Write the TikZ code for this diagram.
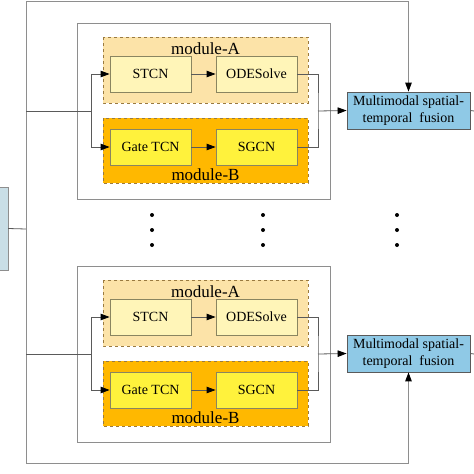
\documentclass[tikz,border=0pt]{standalone}
\usepackage{fontspec}
\setmainfont{Liberation Serif}
\newfontfamily\tnr{Liberation Serif}
\usetikzlibrary{arrows.meta}
\definecolor{frameg}{HTML}{8E8E8E}
\definecolor{lineg}{HTML}{5A5A5A}
\definecolor{modAfill}{HTML}{FCE3A8}
\definecolor{modBfill}{HTML}{FFB800}
\definecolor{lyellow}{HTML}{FFF5B8}
\definecolor{syellow}{HTML}{FFF23C}
\definecolor{fusefill}{HTML}{8FC9E6}
\definecolor{boxedge}{HTML}{8A8560}
\definecolor{dashedge}{HTML}{9A7A40}
\definecolor{leftfill}{HTML}{C9DEE6}
\begin{document}
\begin{tikzpicture}[x=1pt,y=-1pt,
  frame/.style={draw=frameg, line width=1pt},
  modbox/.style={draw=dashedge, dashed, line width=0.7pt},
  blk/.style={draw=boxedge, line width=0.8pt, minimum width=81pt, minimum height=36pt, inner sep=0pt, font=\tnr\fontsize{14}{16}\selectfont},
  conn/.style={draw=lineg, line width=0.8pt},
  arr/.style={conn, -{Triangle[length=9pt,width=6.5pt,color=black]}},
  farr/.style={frame, -{Triangle[length=9pt,width=6.5pt,color=black]}},
  modlabel/.style={font=\tnr\fontsize{17}{20}\selectfont, anchor=base, inner sep=0pt},
  fuse/.style={draw=lineg, line width=0.8pt, fill=fusefill, minimum width=123pt, minimum height=37pt, inner sep=0pt, align=center, font=\tnr\fontsize{14}{17}\selectfont},
  dotmark/.style={circle, fill=black, inner sep=0pt, minimum size=4pt}]
\useasboundingbox (0,0) rectangle (474,474);
\clip (0,0) rectangle (474,474);
\fill[white] (0,0) rectangle (474,474);
% left input box
\node[draw=frameg, fill=leftfill, minimum width=14pt, minimum height=83pt, inner sep=0pt] (inp) at (1,228.5) {};
\coordinate (J) at (26,229);
\draw[conn] (inp.east) -- (J);
% long frame lines
\coordinate (TL) at (26,1);
\coordinate (TR) at (408.5,1);
\coordinate (BL) at (26,463);
\coordinate (BR) at (408.5,463);
\draw[frame] (TL) -- (BL);
\foreach \i/\o in {1/0,2/243}{
  \begin{scope}[yshift=-\o pt]
  \draw[frame] (77,23) rectangle (330,199);
  \fill[modAfill] (103,37) rectangle (308,103);
  \draw[modbox] (103,37) rectangle (308,103);
  \fill[modBfill] (103,118) rectangle (308,183);
  \draw[modbox] (103,118) rectangle (308,183);
  \node[modlabel] (la\i) at (205.5,54.5) {module-A};
  \node[modlabel] (lb\i) at (205.5,180) {module-B};
  \node[blk, fill=lyellow] (S\i) at (150.5,74) {STCN};
  \node[blk, fill=lyellow] (O\i) at (256.5,74) {ODESolve};
  \node[blk, fill=syellow] (G\i) at (150.5,147) {Gate TCN};
  \node[blk, fill=syellow] (C\i) at (256.5,147) {SGCN};
  \node[fuse] (F\i) at (408.5,110.5) {Multimodal spatial-\\temporal\ \ fusion};
  \coordinate (in\i) at (26,111);
  \coordinate (sp\i) at (91,111);
  \coordinate (mg\i) at (318,111);
  \coordinate (out\i) at (474,111);
  \end{scope}
  \draw[conn] (in\i) -- (sp\i);
  \draw[arr] (sp\i) |- (S\i.west);
  \draw[arr] (sp\i) |- (G\i.west);
  \draw[arr] (S\i) -- (O\i);
  \draw[arr] (G\i) -- (C\i);
  \draw[conn] (O\i.east) -| (mg\i) |- (C\i.east);
  \draw[arr] (mg\i) -- (F\i.west);
  \draw[conn] (F\i.east) -- (out\i);
}
\draw[farr] (TL) -- (TR) -- (F1.north);
\draw[farr] (BL) -- (BR) -- (F2.south);
% ellipsis dots
\foreach \x/\n in {152/a,263/b,397/c}{
  \node[dotmark] (d\n1) at (\x,215) {};
  \node[dotmark] (d\n2) at (\x,230) {};
  \node[dotmark] (d\n3) at (\x,245) {};
}
\end{tikzpicture}
\end{document}
